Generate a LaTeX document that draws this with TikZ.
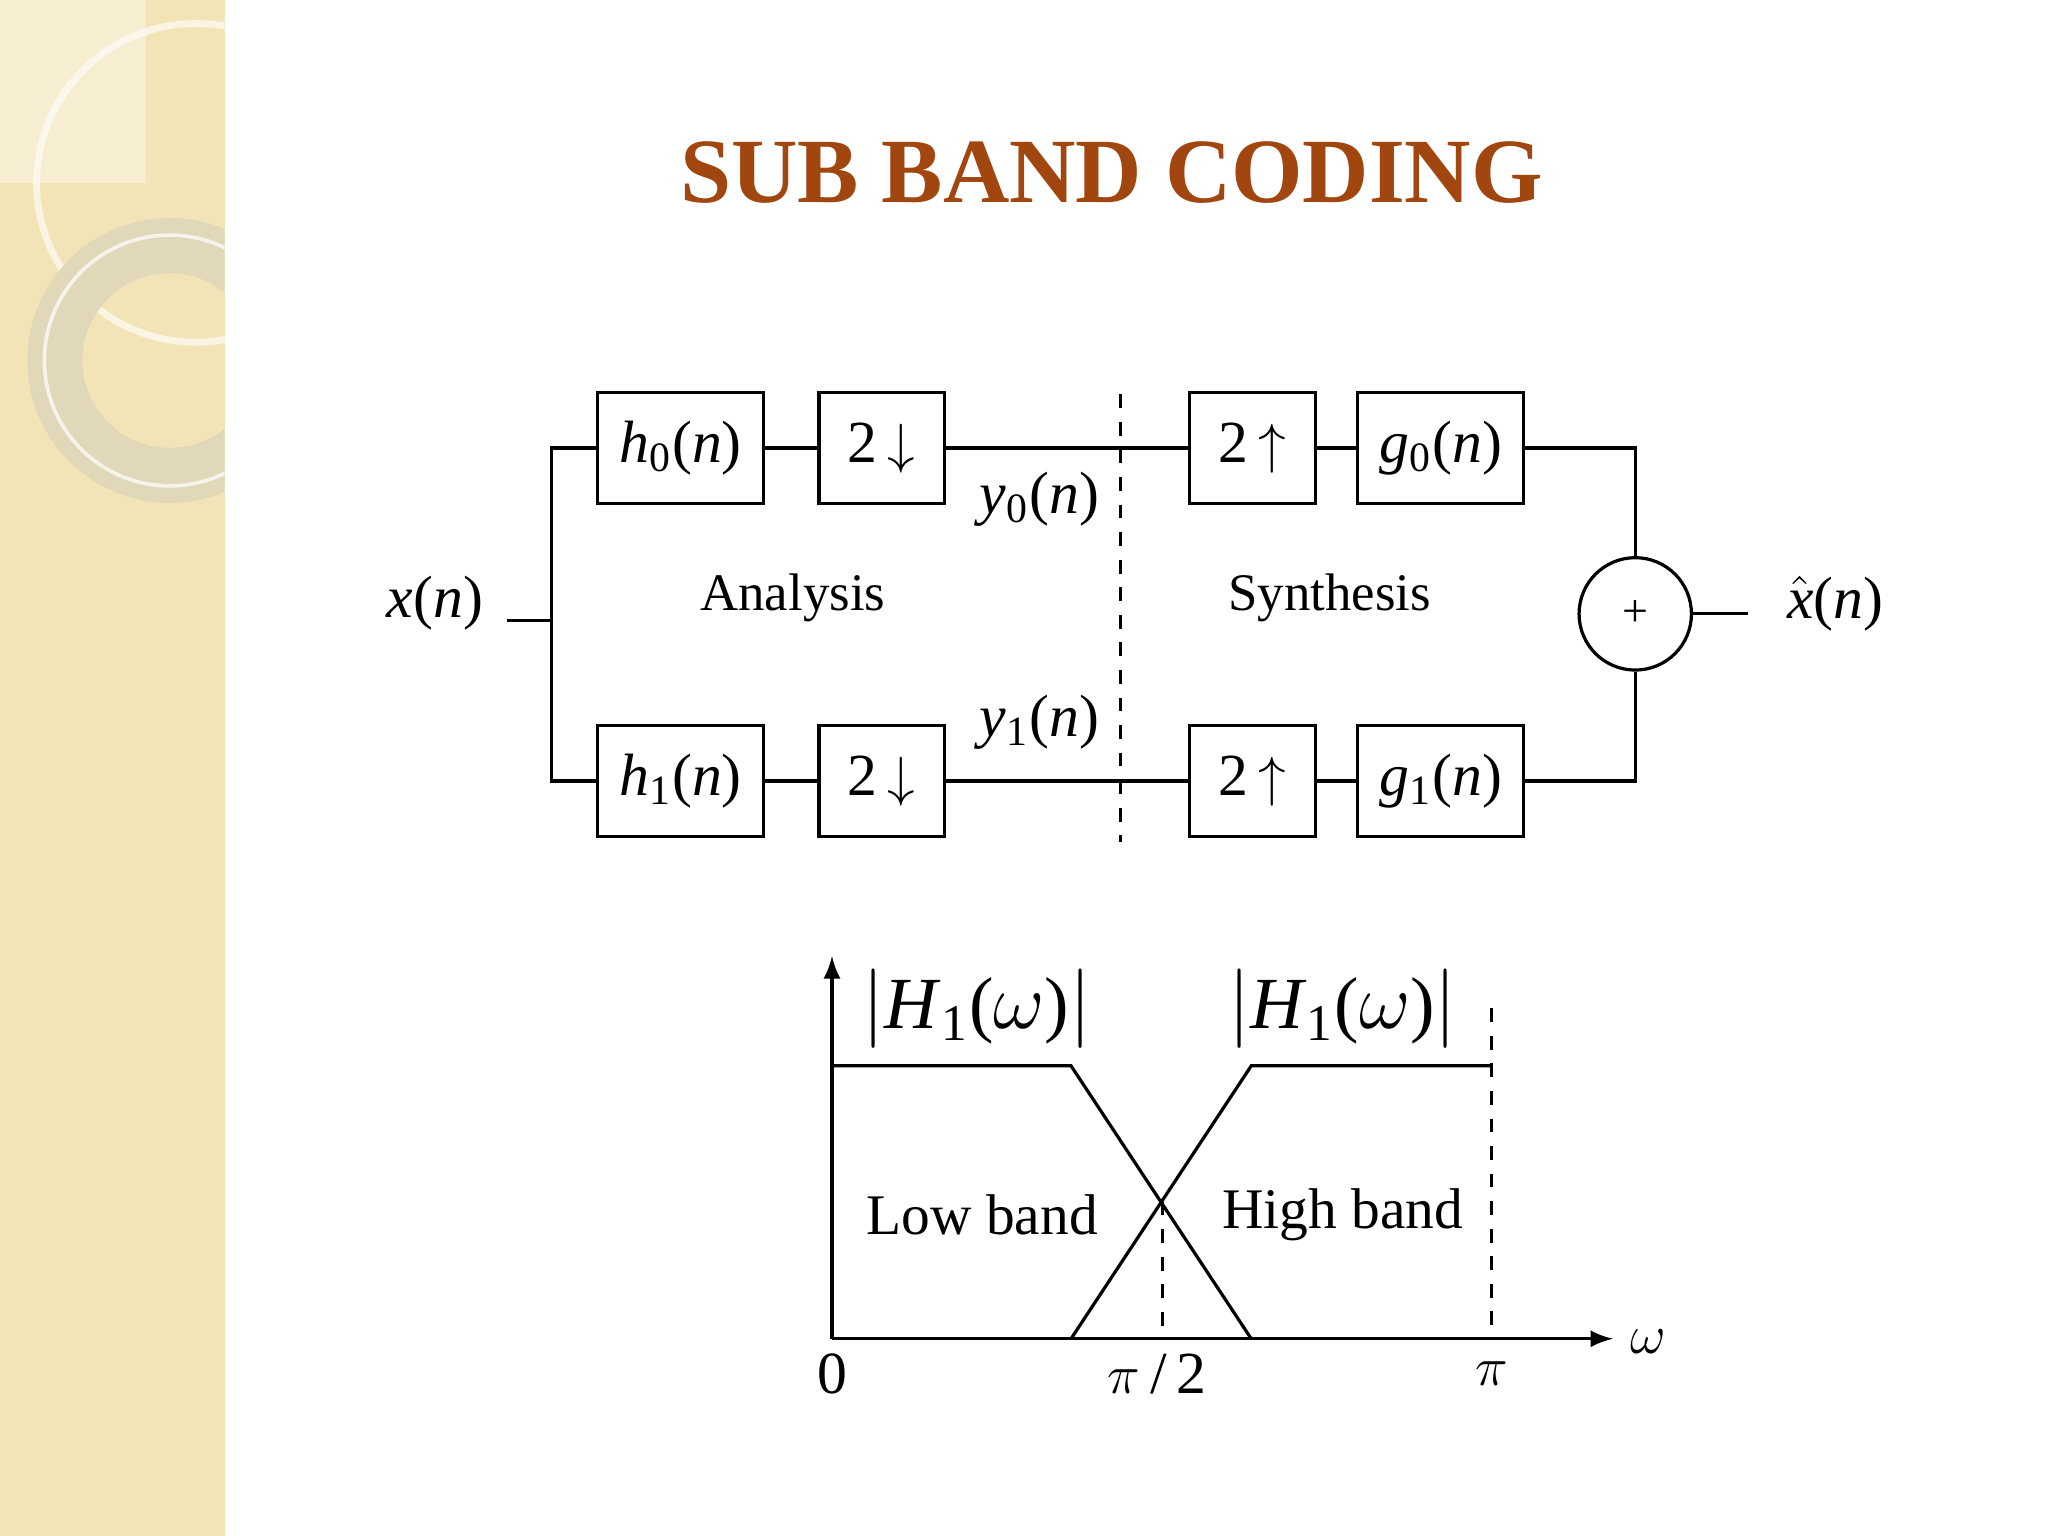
\documentclass[tikz,border=0pt]{standalone}
\usepackage{fontspec}
\setmainfont{Liberation Serif}
\begin{document}
\begin{tikzpicture}[x=0.01cm,y=-0.01cm,
  box/.style={draw,line width=0.7pt,minimum width=1.27cm,minimum height=0.85cm,inner sep=0pt,font=\fontsize{13}{16}\selectfont},
  sbox/.style={box,minimum width=0.96cm},
  ln/.style={line width=0.7pt},
  lbl/.style={font=\fontsize{13}{16}\selectfont,inner sep=0pt},
  txt/.style={font=\fontsize{11.5}{14}\selectfont,inner sep=0pt}]
\useasboundingbox (0,0) rectangle (1568,1176);
\fill[white] (0,0) rectangle (1568,1176);
\fill[color={rgb,255:red,243;green,228;blue,184}] (0,0) rectangle (172,1176);
\begin{scope}
\clip (0,0) rectangle (172,1176);
\draw[white,opacity=0.6,line width=1.5pt] (150,140) circle (122);
\fill[white,opacity=0.35] (0,0) rectangle (112,140);
\draw[color={rgb,255:red,225;green,215;blue,185},line width=12pt] (130,276) circle (88);
\draw[white,opacity=0.7,line width=0.8pt] (130,276) circle (96);
\end{scope}
\node[font=\fontsize{20}{24}\bfseries\selectfont,text={rgb,255:red,160;green,70;blue,14}] at (851,132) {SUB BAND CODING};
% boxes
\node[box] (h0) at (521,343) {\textit{h}\textsubscript{0}(\textit{n})};
\node[sbox] (d0) at (675,343) {2\,$\downarrow$};
\node[sbox] (u0) at (959,343) {2\,$\uparrow$};
\node[box] (g0) at (1103,343) {\textit{g}\textsubscript{0}(\textit{n})};
\node[box] (h1) at (521,598) {\textit{h}\textsubscript{1}(\textit{n})};
\node[sbox] (d1) at (675,598) {2\,$\downarrow$};
\node[sbox] (u1) at (959,598) {2\,$\uparrow$};
\node[box] (g1) at (1103,598) {\textit{g}\textsubscript{1}(\textit{n})};
\node[draw,circle,line width=0.7pt,minimum size=0.86cm,inner sep=0pt,font=\fontsize{10}{12}\selectfont] (s) at (1252,470) {+};
\coordinate (xin) at (388,475);
\coordinate (br) at (422,475);
\coordinate (xout) at (1338,470);
\draw[ln] (xin) -- (br);
\draw[ln] (h0.west) -| (br) |- (h1.west);
\draw[ln] (h0) -- (d0); \draw[ln] (d0) -- (u0); \draw[ln] (u0) -- (g0);
\draw[ln] (h1) -- (d1); \draw[ln] (d1) -- (u1); \draw[ln] (u1) -- (g1);
\draw[ln] (g0.east) -| (s.north);
\draw[ln] (g1.east) -| (s.south);
\draw[ln] (s.east) -- (xout);
\coordinate (dt) at (858,302); \coordinate (db) at (858,645);
\draw[ln,dashed] (dt) -- (db);
\node[lbl] at (333,462) {\textit{x}(\textit{n})};
\node[lbl] at (1405,462) {$\hat{\textit{x}}$(\textit{n})};
\node[lbl] at (796,382) {\textit{y}\textsubscript{0}(\textit{n})};
\node[lbl] at (796,553) {\textit{y}\textsubscript{1}(\textit{n})};
\node[txt] at (607,458) {Analysis};
\node[txt] at (1018,458) {Synthesis};
% graph
\coordinate (o) at (637,1025);
\coordinate (yt) at (637,732);
\coordinate (xe) at (1235,1025);
\draw[ln,-latex] (o) -- (yt);
\draw[ln,-latex] (o) -- (xe);
\coordinate (l1) at (637,816); \coordinate (l2) at (820,816); \coordinate (l3) at (958,1025);
\coordinate (r1) at (820,1025); \coordinate (r2) at (958,816); \coordinate (r3) at (1142,816);
\draw[ln] (l1) -- (l2) -- (l3);
\draw[ln] (r1) -- (r2) -- (r3);
\coordinate (m1) at (890,920); \coordinate (m2) at (890,1025);
\coordinate (p1) at (1142,772); \coordinate (p2) at (1142,1025);
\draw[ln,dashed] (m1) -- (m2);
\draw[ln,dashed] (p1) -- (p2);
\node[lbl,font=\fontsize{16}{19}\selectfont] at (748,772) {$\bigl|$\textit{H}\textsubscript{1}($\omega$)$\bigr|$};
\node[lbl,font=\fontsize{16}{19}\selectfont] at (1028,772) {$\bigl|$\textit{H}\textsubscript{1}($\omega$)$\bigr|$};
\node[txt,font=\fontsize{12.5}{15}\selectfont] at (752,930) {Low band};
\node[txt,font=\fontsize{12.5}{15}\selectfont] at (1028,930) {High band};
\node[lbl] at (637,1052) {0};
\node[lbl] at (886,1052) {$\pi$\,/\,2};
\node[lbl] at (1142,1052) {$\pi$};
\node[lbl] at (1262,1027) {$\omega$};
\end{tikzpicture}
\end{document}
